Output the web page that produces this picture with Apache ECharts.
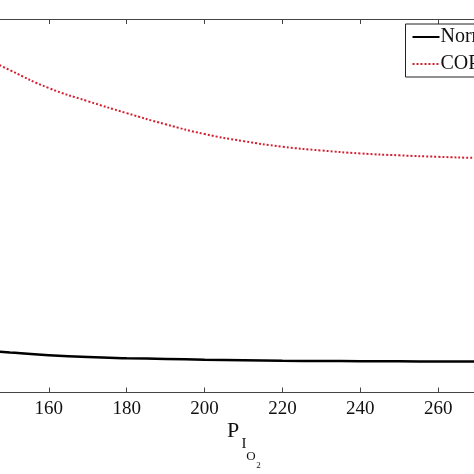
<!DOCTYPE html>
<html>
<head>
<meta charset="utf-8">
<script src="https://cdn.jsdelivr.net/npm/echarts@6/dist/echarts.min.js"></script>
<style>html,body{margin:0;padding:0;background:#fff;}#c{width:474px;height:474px;}</style>
</head>
<body>
<div id="c"></div>
<script>
var xValues = [140, 150, 160, 170, 180, 190, 200, 210, 220, 230, 240, 250, 260, 270, 280];
var normalValues = [11.5, 10.7, 10.0, 9.5, 9.2, 9.0, 8.8, 8.65, 8.5, 8.45, 8.4, 8.35, 8.3, 8.3, 8.3];
var copdValues = [91.5, 86.3, 81.5, 78.0, 74.8, 71.8, 69.2, 67.3, 65.8, 64.8, 64.0, 63.5, 63.1, 62.8, 62.6];
var seriesNames = ['Normal', 'COPD'];
var xTicks = {min: 140, max: 280, interval: 20};

function pairs(ys) { return xValues.map(function (x, i) { return [x, ys[i]]; }); }

var FONT = 'Liberation Serif';
var chart = echarts.init(document.getElementById('c'));
chart.setOption({
  animation: false,
  backgroundColor: '#fff',
  grid: {left: -29, right: -42, top: 19, bottom: 81.5, containLabel: false, outerBoundsMode: 'none'},
  xAxis: [{
    type: 'value', min: xTicks.min, max: xTicks.max, interval: xTicks.interval,
    position: 'bottom',
    axisLine: {lineStyle: {color: '#444', width: 1}},
    axisTick: {inside: true, length: 5, lineStyle: {color: '#444'}},
    axisLabel: {fontFamily: FONT, fontSize: 19, color: '#111', margin: 7},
    splitLine: {show: false}
  }, {
    type: 'value', min: xTicks.min, max: xTicks.max, interval: xTicks.interval,
    position: 'top',
    axisLine: {lineStyle: {color: '#444', width: 1}},
    axisTick: {inside: true, length: 5, lineStyle: {color: '#444'}},
    axisLabel: {show: false},
    splitLine: {show: false}
  }],
  yAxis: {type: 'value', min: 0, max: 100, show: false},
  legend: {
    orient: 'vertical', left: 405.5, top: 24,
    data: seriesNames,
    backgroundColor: '#fff',
    borderColor: '#222', borderWidth: 1,
    padding: [3, 6, 3, 6],
    itemWidth: 27, itemHeight: 14, itemGap: 7,
    itemStyle: {opacity: 0},
    textStyle: {fontFamily: FONT, fontSize: 20, color: '#111', padding: [0, 0, 0, -4]}
  },
  series: [{
    name: seriesNames[0], type: 'line', data: pairs(normalValues),
    smooth: true, showSymbol: false, symbol: 'none',
    lineStyle: {color: '#000', width: 2.5},
    itemStyle: {color: '#000'}
  }, {
    name: seriesNames[1], type: 'line', data: pairs(copdValues),
    smooth: true, showSymbol: false, symbol: 'none',
    lineStyle: {color: '#d41f30', width: 2, type: 'dotted'},
    itemStyle: {color: '#d41f30'}
  }],
  graphic: [
    {type: 'text', x: 233, y: 431, style: {text: 'P', font: '22px "Liberation Serif"', fill: '#111', align: 'center', verticalAlign: 'middle'}},
    {type: 'text', x: 244, y: 444, style: {text: 'I', font: '15px "Liberation Serif"', fill: '#111', align: 'center', verticalAlign: 'middle'}},
    {type: 'text', x: 251, y: 457, style: {text: 'O', font: '13px "Liberation Serif"', fill: '#111', align: 'center', verticalAlign: 'middle'}},
    {type: 'text', x: 258.5, y: 466, style: {text: '2', font: '9px "Liberation Serif"', fill: '#111', align: 'center', verticalAlign: 'middle'}}
  ]
});
</script>
</body>
</html>
